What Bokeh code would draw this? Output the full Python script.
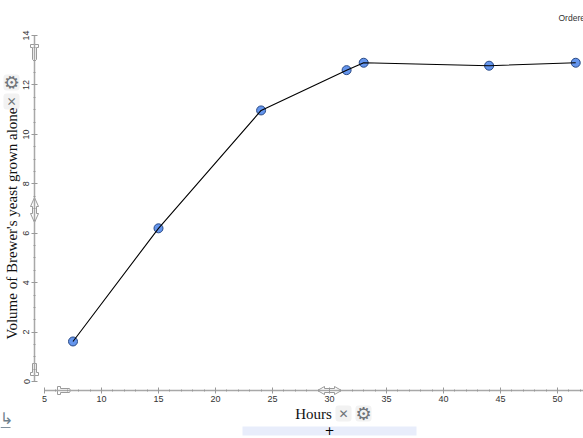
from bokeh.embed import file_html
from bokeh.resources import INLINE
from bokeh.plotting import figure
from bokeh.models import (Range1d, LinearAxis, Label, BoxAnnotation, FixedTicker,
                          ColumnDataSource)

hours = [7.5, 15, 24, 31.5, 33, 44, 51.6]
volume = [1.62, 6.2, 10.97, 12.6, 12.9, 12.78, 12.9]
x_major = [5, 10, 15, 20, 25, 30, 35, 40, 45, 50]
x_minor = [v for v in range(5, 53)]
y_major = [0, 2, 4, 6, 8, 10, 12, 14]
y_minor = [v * 0.5 for v in range(0, 29)]
x_title = "Hours"
y_title = "Volume of Brewer's yeast grown alone"
corner_text = "Ordered"

W, H = 583, 438
PX = 11.4      # pixels per hour
PY = 24.71     # pixels per volume unit
X0, Y0 = 44, 381  # pixel position of x=5 and y=0
FL, FB = 34, 390  # axis positions in pixels

AXIS = "#a8a8a8"
HANDLE = "#9a9a9a"


def sx(px):
    return 5 + (px - X0) / PX


def sy(py):
    return (Y0 - py) / PY


xr = Range1d(sx(0), sx(W))
yr = Range1d(sy(H), sy(0))

p = figure(width=W, height=H, x_range=xr, y_range=yr, toolbar_location=None,
           output_backend="svg", x_axis_location=None, y_axis_location=None,
           min_border_left=0, min_border_right=0, min_border_top=0,
           min_border_bottom=0, outline_line_color=None)
p.grid.visible = False


def style(ax):
    ax.axis_line_color = AXIS
    ax.axis_line_width = 1.5
    ax.major_tick_line_color = "#999999"
    ax.minor_tick_line_color = "#999999"
    ax.major_tick_in = 3
    ax.major_tick_out = 3
    ax.minor_tick_in = 1
    ax.minor_tick_out = 1
    ax.major_label_text_font = "Liberation Sans"
    ax.major_label_text_font_size = "9px"
    ax.major_label_text_color = "#333333"
    ax.major_label_standoff = 2


xa = LinearAxis(ticker=FixedTicker(ticks=x_major, minor_ticks=x_minor), bounds=(5, 53),
                fixed_location=sy(FB))
ya = LinearAxis(ticker=FixedTicker(ticks=y_major, minor_ticks=y_minor), bounds=(0, 14),
                fixed_location=sx(FL))
style(xa)
style(ya)
ya.major_label_orientation = "vertical"
p.add_layout(xa, "below")
p.add_layout(ya, "left")

src = ColumnDataSource(dict(h=hours, v=volume))
p.scatter("h", "v", source=src, size=9, fill_color="#6495ed", line_color="#2a4a85", line_width=1)
p.line("h", "v", source=src, line_color="black", line_width=1.1)


def text(x, y, t, size, font="Open Sans", color="#000000", angle=0, align="center", **kw):
    p.add_layout(Label(x=sx(x), y=sy(y), text=t, text_font=font, text_font_size=size,
                       text_color=color, angle=angle, angle_units="deg",
                       text_align=align, text_baseline="middle", **kw))


# buttons
for (bx, by) in [(11, 82), (11, 101), (343, 413), (363, 413)]:
    p.add_layout(BoxAnnotation(left=sx(bx - 8), right=sx(bx + 8), bottom=sy(by + 8), top=sy(by - 8),
                               fill_color="#f2f2f2", fill_alpha=1, line_color=None,
                               border_radius=3))

# add-bar
p.add_layout(BoxAnnotation(left=sx(242), right=sx(416), bottom=sy(435), top=sy(426),
                           fill_color="#e8edfb", fill_alpha=1, line_color=None))

text(11, 223, y_title, "15px", "Liberation Serif", "#111111", 90)
text(313, 413, x_title, "15px", "Liberation Serif", "#111111")
text(558, 17, corner_text, "8.5px", "Liberation Sans", "#333333", align="left")
text(11, 82, "\u2699", "18px", "DejaVu Sans", "#6e7378", 90, text_font_style="bold")
text(11, 101, "\u2715", "12px", "DejaVu Sans", "#6e7378", 90, text_font_style="bold")
text(343, 413, "\u2715", "12px", "DejaVu Sans", "#6e7378", text_font_style="bold")
text(363, 413, "\u2699", "18px", "DejaVu Sans", "#6e7378", text_font_style="bold")
text(329, 430, "+", "12px", "DejaVu Sans", "#000000")

# corner icon
text(6, 418, "\u21b3", "16px", "DejaVu Sans", "#6e7f8c")
p.line([sx(0), sx(10)], [sy(427), sy(427)], line_color="#7f8f9c", line_width=1)


def poly(points):
    xs = [sx(a) for a, _ in points]
    ys = [sy(b) for _, b in points]
    p.patch(xs, ys, fill_color="white", line_color=HANDLE, line_width=1)


def double_arrow_v(cx, top, bottom):
    poly([(cx, top), (cx + 4, top + 9), (cx + 2, top + 9), (cx + 2, bottom - 9), (cx + 4, bottom - 9),
          (cx, bottom), (cx - 4, bottom - 9), (cx - 2, bottom - 9), (cx - 2, top + 9), (cx - 4, top + 9)])


def double_arrow_h(cy, left, right):
    poly([(left, cy), (left + 7, cy - 4), (left + 7, cy - 2), (right - 7, cy - 2), (right - 7, cy - 4),
          (right, cy), (right - 7, cy + 4), (right - 7, cy + 2), (left + 7, cy + 2), (left + 7, cy + 4)])


# y-axis range handles
poly([(30, 44), (38, 44), (38, 47), (36, 47), (36, 59), (34, 61), (32, 59), (32, 47), (30, 47)])
double_arrow_v(34, 197, 222)
poly([(32, 363), (36, 363), (36, 372), (38, 372), (38, 375), (30, 375), (30, 372), (32, 372)])

# x-axis range handles
poly([(57, 386), (60, 386), (60, 388), (69, 388), (70, 390), (69, 392), (60, 392), (60, 394), (57, 394)])
double_arrow_h(390, 317, 341)

open("out.html", "w").write(file_html(p, INLINE))
